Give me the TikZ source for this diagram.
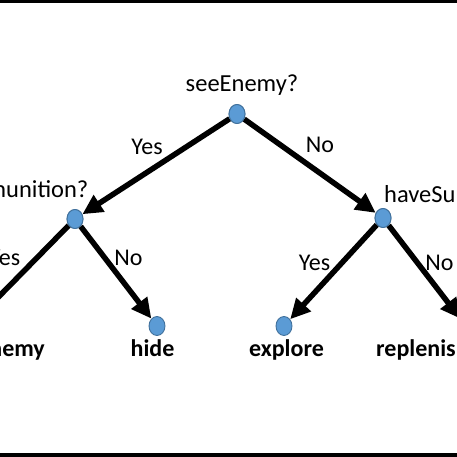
\documentclass[tikz,border=0pt]{standalone}
\usepackage{fontspec}
\setmainfont{Carlito}
\usetikzlibrary{shapes.geometric,arrows.meta}
\definecolor{dotfill}{HTML}{5B9BD5}
\definecolor{dotline}{HTML}{41719C}
\tikzset{
  dot/.style={ellipse,fill=dotfill,draw=dotline,line width=0.9pt,minimum width=16pt,minimum height=19pt,inner sep=0pt},
  edge/.style={line width=5.5pt,-{Triangle[length=20pt,width=19pt]}},
  qtext/.style={font=\fontsize{24.5}{28}\selectfont,inner sep=0pt},
  leaftext/.style={font=\bfseries\fontsize{24}{28}\selectfont,inner sep=0pt,anchor=base},
  lbl/.style={font=\fontsize{24}{28}\selectfont,inner sep=0pt,anchor=base}
}
\begin{document}
\begin{tikzpicture}[x=1pt,y=-1pt]
\useasboundingbox (0,0) rectangle (457,457);
\clip (0,0) rectangle (457,457);
\fill[white] (0,0) rectangle (457,457);
\fill[black] (0,0) rectangle (457,3.3);
\fill[black] (0,453) rectangle (457,457);
% nodes
\node[dot] (root) at (237,114) {};
\node[dot] (ammo) at (75,219) {};
\node[dot] (supp) at (383,218) {};
\node[dot] (attack) at (-30,326) {};
\node[dot] (hide) at (157,326) {};
\node[dot] (explore) at (284,326) {};
\node[dot] (repl) at (466,326) {};
% texts
\node[qtext,anchor=base] (troot) at (242,92) {seeEnemy?};
\node[qtext,anchor=base east] (tammo) at (88.5,197) {haveAmmunition?};
\node[qtext,anchor=base west] (tsupp) at (384,202) {haveSupplies?};
\node[leaftext,anchor=base east] (tattack) at (45,356) {attackEnemy};
\node[leaftext] (thide) at (152.5,356) {hide};
\node[leaftext] (texplore) at (286.5,356) {explore};
\node[leaftext,anchor=base west] (trepl) at (376,356) {replenish};
% edges
\draw[edge] (root) -- (ammo);
\draw[edge] (root) -- (supp);
\draw[edge] (ammo) -- (attack);
\draw[edge] (ammo) -- (hide);
\draw[edge] (supp) -- (explore);
\draw[edge] (supp) -- (repl);
\node[dot] at (root) {};
\node[dot] at (ammo) {};
\node[dot] at (supp) {};
% edge labels
\node[lbl] (l1) at (147,155) {Yes};
\node[lbl] (l2) at (320,153) {No};
\node[lbl,anchor=base east] (l3) at (20.5,265) {Yes};
\node[lbl] (l4) at (128.5,265) {No};
\node[lbl] (l5) at (314.5,270) {Yes};
\node[lbl] (l6) at (439.5,270) {No};
\end{tikzpicture}
\end{document}
